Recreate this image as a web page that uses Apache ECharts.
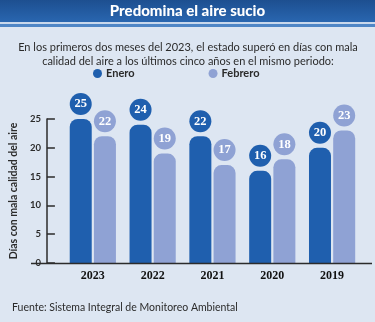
<!DOCTYPE html>
<html>
<head>
<meta charset="utf-8">
<script src="https://cdn.jsdelivr.net/npm/echarts@6/dist/echarts.min.js"></script>
<style>
  html, body { margin: 0; padding: 0; background: #dde6f2; }
  #chart { width: 375px; height: 322px; }
</style>
</head>
<body>
<div id="chart"></div>
<script>
// Días con mala calidad del aire, enero y febrero de cada año
const years = ['2023', '2022', '2021', '2020', '2019'];
const enero = [25, 24, 22, 16, 20];
const febrero = [22, 19, 17, 18, 23];
const yTicks = [0, 5, 10, 15, 20, 25];

const colEnero = '#1f5fae';
const colFebrero = '#8fa2d4';
const ink = '#2b2b2b';

const chart = echarts.init(document.getElementById('chart'), null, { renderer: 'canvas' });

function barSeries(name, data, color) {
  return {
    name: name,
    type: 'bar',
    data: data,
    barWidth: 22,
    barGap: '10%',
    itemStyle: { color: color, borderRadius: [8, 8, 0, 0] },
    label: {
      show: true,
      position: 'top',
      distance: 4,
      width: 22,
      height: 22,
      lineHeight: 22,
      align: 'center',
      borderRadius: 11,
      backgroundColor: color,
      color: '#ffffff',
      fontFamily: 'Liberation Serif',
      fontWeight: 'bold',
      fontSize: 12.5
    }
  };
}

chart.setOption({
  backgroundColor: '#dde6f2',
  animation: false,
  title: [
    {
      text: 'Predomina el aire sucio',
      left: 'center',
      top: 4,
      padding: 0,
      textStyle: { color: '#ffffff', fontFamily: 'Lato', fontWeight: 900, fontSize: 15 }
    },
    {
      text: 'Fuente: Sistema Integral de Monitoreo Ambiental',
      left: 12,
      top: 302,
      padding: 0,
      textStyle: { color: ink, fontFamily: 'Lato', fontWeight: 'normal', fontSize: 10.5 }
    }
  ],
  graphic: [
    {
      type: 'rect', z: -1,
      shape: { x: 0, y: 0, width: 375, height: 22 },
      style: {
        fill: new echarts.graphic.LinearGradient(0, 0, 0, 1, [
          { offset: 0, color: '#1d4f90' },
          { offset: 1, color: '#2966b0' }
        ])
      }
    },
    { type: 'rect', z: -1, shape: { x: 0, y: 22, width: 375, height: 2 }, style: { fill: '#c9d8ec' } },
    { type: 'rect', z: -1, shape: { x: 0, y: 24, width: 375, height: 3 }, style: { fill: '#4f86c6' } },
    {
      type: 'text',
      x: 188, y: 41,
      style: {
        text: 'En los primeros dos meses del 2023, el estado superó en días con mala\ncalidad del aire a los últimos cinco años en el mismo periodo:',
        align: 'center',
        verticalAlign: 'top',
        fill: ink,
        font: 'normal 11px Lato',
        lineHeight: 13.5
      }
    },
    // baseline under the bars
    {
      type: 'line', z: 5,
      shape: { x1: 31, y1: 263.5, x2: 372, y2: 263.5 },
      style: { stroke: ink, lineWidth: 1.5 }
    }
  ],
  legend: {
    top: 68,
    left: 93,
    padding: 0,
    itemGap: 74,
    itemWidth: 9,
    itemHeight: 9,
    icon: 'circle',
    textStyle: { color: ink, fontFamily: 'Lato', fontWeight: 'bold', fontSize: 11, padding: [0, 0, 0, -1] },
    data: ['Enero', 'Febrero']
  },
  grid: { left: 47, right: 13, top: 119, bottom: 59, containLabel: false },
  xAxis: {
    type: 'category',
    data: years,
    axisLine: { show: false },
    axisTick: { show: false },
    axisLabel: {
      margin: 7,
      color: '#111',
      fontFamily: 'Liberation Serif',
      fontWeight: 'bold',
      fontSize: 12
    }
  },
  yAxis: {
    type: 'value',
    min: yTicks[0],
    max: yTicks[yTicks.length - 1],
    interval: 5,
    offset: 16,
    name: 'Días con mala calidad del aire',
    nameLocation: 'middle',
    nameGap: 22,
    nameTextStyle: { color: ink, fontFamily: 'Lato', fontWeight: 'bold', fontSize: 10.5 },
    axisLine: { show: true, lineStyle: { color: ink, width: 1.5 } },
    axisTick: { show: true, inside: true, length: 8, lineStyle: { color: ink, width: 1.5 } },
    splitLine: { show: false },
    axisLabel: {
      margin: 6,
      color: ink,
      fontFamily: 'Lato',
      fontWeight: 'bold',
      fontSize: 9.5,
      formatter: function (v) { return yTicks.indexOf(v) >= 0 ? String(v) : ''; }
    }
  },
  series: [
    barSeries('Enero', enero, colEnero),
    barSeries('Febrero', febrero, colFebrero)
  ]
});
</script>
</body>
</html>
